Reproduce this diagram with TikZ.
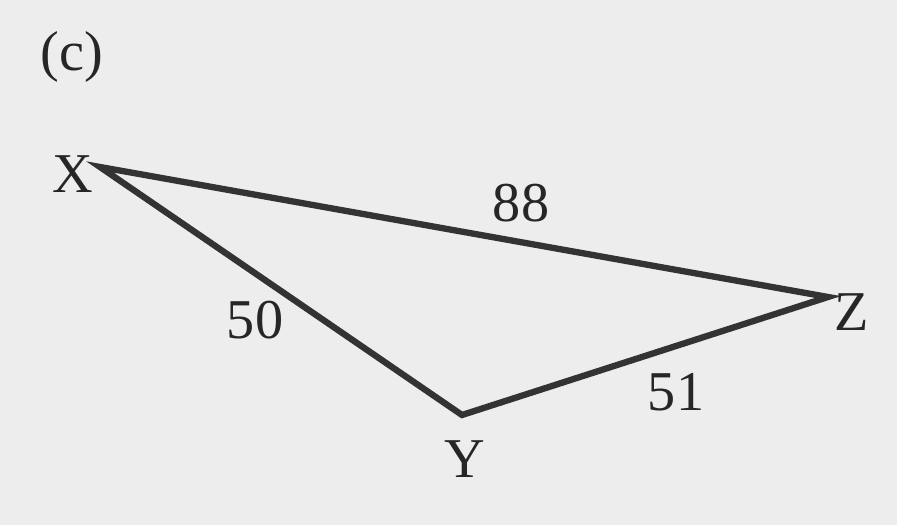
\documentclass[tikz,border=0pt]{standalone}
\usepackage{fontspec}
\setmainfont{Liberation Serif}
\begin{document}
\begin{tikzpicture}[x=0.02cm,y=0.02cm,
    side/.style={line width=3.6pt,draw=black!80,line join=miter},
    lbl/.style={inner sep=0pt,text=black!85}]
             % background sheet
             \fill[black!7] (0,0) rectangle (897,525);
             \useasboundingbox (0,0) rectangle (897,525);
             \fontsize{32}{38}\selectfont
             \coordinate (X) at (100,358);
             \coordinate (Y) at (462,110);
             \coordinate (Z) at (828,228);
             \draw[side] (X) -- (Y) -- (Z) -- cycle;
             \node[lbl] (part) at (72,468) {(c)};
             \node[lbl] (lX) at (73,351) {X};
             \node[lbl] (lY) at (465,66) {Y};
             \node[lbl] (lZ) at (852,213) {Z};
             \node[lbl] (sXZ) at (521,322) {88};
             \node[lbl] (sXY) at (255,205) {50};
             \node[lbl] (sYZ) at (676,133) {51};
        \end{tikzpicture}
\end{document}
